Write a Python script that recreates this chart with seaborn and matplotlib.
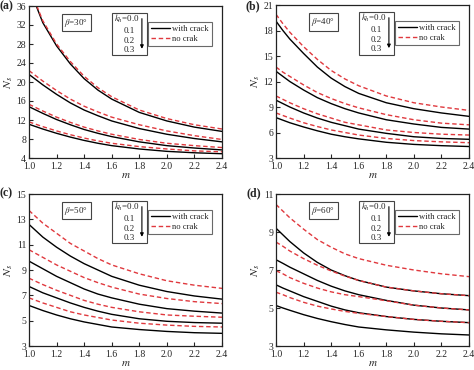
import numpy as np
import pandas as pd
import matplotlib
matplotlib.use("Agg")
import matplotlib.pyplot as plt
import seaborn as sns
from matplotlib.lines import Line2D

sns.set_theme(style="ticks")
plt.rcParams['font.family'] = ['Liberation Serif', 'DejaVu Serif']
plt.rcParams['mathtext.fontset'] = 'stix'

m_vals = [1.0, 1.05, 1.1, 1.2, 1.3, 1.4, 1.5, 1.6, 1.8, 2.0, 2.2, 2.4]
kh_labels = ["0.0", "0.1", "0.2", "0.3"]
type_labels = ["with crack", "no crak"]

# Panel (a) beta = 30
a_crack = [
    [40.5, 36.2, 32.5, 27.6, 23.8, 20.7, 18.3, 16.4, 13.6, 11.8, 10.5, 9.6],
    [21.6, 20.5, 19.4, 17.4, 15.6, 14.1, 12.9, 11.8, 10.2, 9.0, 8.1, 7.4],
    [14.8, 14.1, 13.4, 12.1, 11.0, 10.0, 9.2, 8.5, 7.4, 6.6, 6.1, 5.7],
    [11.1, 10.6, 10.1, 9.2, 8.4, 7.7, 7.1, 6.6, 5.9, 5.4, 5.1, 4.9],
]
a_nocrack = [
    [40.8, 36.5, 32.9, 28.0, 24.3, 21.2, 18.8, 16.9, 14.1, 12.3, 11.0, 10.1],
    [22.4, 21.3, 20.2, 18.2, 16.4, 14.9, 13.7, 12.6, 11.0, 9.7, 8.7, 7.9],
    [15.3, 14.6, 13.9, 12.6, 11.5, 10.5, 9.7, 9.0, 7.9, 7.1, 6.6, 6.2],
    [11.6, 11.1, 10.6, 9.7, 8.9, 8.2, 7.6, 7.1, 6.4, 5.9, 5.5, 5.3],
]
# Panel (b) beta = 40
b_crack = [
    [19.1, 18.0, 17.0, 15.3, 13.7, 12.4, 11.4, 10.6, 9.5, 8.8, 8.3, 7.9],
    [13.2, 12.6, 12.0, 11.0, 10.1, 9.4, 8.8, 8.3, 7.5, 7.0, 6.6, 6.4],
    [9.8, 9.4, 9.0, 8.3, 7.7, 7.2, 6.8, 6.4, 5.9, 5.5, 5.3, 5.2],
    [7.75, 7.45, 7.15, 6.65, 6.2, 5.8, 5.5, 5.25, 4.85, 4.6, 4.45, 4.35],
]
b_nocrack = [
    [19.9, 18.8, 17.8, 16.1, 14.6, 13.3, 12.3, 11.5, 10.3, 9.5, 9.0, 8.6],
    [13.7, 13.1, 12.6, 11.6, 10.7, 10.0, 9.4, 8.9, 8.1, 7.5, 7.1, 6.9],
    [10.3, 9.9, 9.5, 8.8, 8.2, 7.7, 7.2, 6.9, 6.3, 6.0, 5.8, 5.7],
    [8.3, 8.0, 7.7, 7.15, 6.7, 6.3, 6.0, 5.7, 5.3, 5.05, 4.9, 4.8],
]
# Panel (c) beta = 50
c_crack = [
    [12.6, 12.1, 11.6, 10.8, 10.1, 9.5, 9.0, 8.5, 7.8, 7.3, 6.95, 6.7],
    [9.7, 9.4, 9.1, 8.5, 8.0, 7.5, 7.1, 6.8, 6.3, 5.95, 5.75, 5.6],
    [7.7, 7.45, 7.2, 6.8, 6.4, 6.05, 5.75, 5.5, 5.15, 4.95, 4.85, 4.8],
    [6.2, 6.0, 5.8, 5.45, 5.15, 4.9, 4.7, 4.5, 4.3, 4.15, 4.05, 4.0],
]
c_nocrack = [
    [13.7, 13.2, 12.7, 11.9, 11.1, 10.5, 9.9, 9.4, 8.7, 8.15, 7.8, 7.55],
    [10.6, 10.3, 10.0, 9.4, 8.9, 8.4, 8.0, 7.65, 7.1, 6.75, 6.5, 6.35],
    [8.35, 8.1, 7.85, 7.4, 7.0, 6.6, 6.3, 6.05, 5.7, 5.45, 5.35, 5.27],
    [6.8, 6.6, 6.4, 6.05, 5.7, 5.45, 5.25, 5.05, 4.8, 4.65, 4.55, 4.5],
]
# Panel (d) beta = 60
d_crack = [
    [9.2, 8.85, 8.5, 7.9, 7.4, 7.0, 6.7, 6.45, 6.1, 5.9, 5.75, 5.65],
    [7.54, 7.35, 7.15, 6.8, 6.45, 6.15, 5.9, 5.7, 5.4, 5.15, 5.0, 4.9],
    [6.22, 6.05, 5.9, 5.6, 5.35, 5.1, 4.9, 4.75, 4.55, 4.4, 4.3, 4.23],
    [5.13, 5.0, 4.88, 4.65, 4.45, 4.28, 4.13, 4.0, 3.85, 3.73, 3.64, 3.58],
]
d_nocrack = [
    [10.45, 10.1, 9.75, 9.15, 8.6, 8.2, 7.85, 7.6, 7.25, 7.0, 6.8, 6.65],
    [8.47, 8.25, 8.0, 7.6, 7.25, 6.95, 6.68, 6.45, 6.1, 5.9, 5.75, 5.65],
    [6.96, 6.8, 6.6, 6.3, 6.05, 5.85, 5.7, 5.6, 5.38, 5.15, 5.0, 4.9],
    [5.83, 5.7, 5.55, 5.3, 5.1, 4.95, 4.82, 4.72, 4.55, 4.4, 4.3, 4.23],
]

panels = [
    ("(a)", "30", a_crack, a_nocrack, (4, 36), [4, 8, 12, 16, 20, 24, 28, 32, 36]),
    ("(b)", "40", b_crack, b_nocrack, (3, 21), [3, 6, 9, 12, 15, 18, 21]),
    ("(c)", "50", c_crack, c_nocrack, (3, 15), [3, 5, 7, 9, 11, 13, 15]),
    ("(d)", "60", d_crack, d_nocrack, (3, 11), [3, 5, 7, 9, 11]),
]
x_ticks = [1.0, 1.2, 1.4, 1.6, 1.8, 2.0, 2.2, 2.4]

W, H = 474, 370
fig = plt.figure(figsize=(W / 100, H / 100), dpi=100)

# axes boxes in pixels: left, top, right, bottom
boxes = [(29, 6, 222, 158), (276, 5, 469, 158), (29, 194, 222, 346), (276, 194, 469, 346)]
label_pos = [(0, 6), (246, 6), (0, 193), (247, 193)]

red = "#e0393e"
palette = {"with crack": "black", "no crak": red}
dashes = {"with crack": "", "no crak": (3.2, 2.0)}

for (lab, beta, crack, nocrack, ylim, yticks), (l, t, r, b), (lx, ly) in zip(panels, boxes, label_pos):
    ax = fig.add_axes([l / W, 1 - b / H, (r - l) / W, (b - t) / H])
    rows = []
    for kl, cs, ns in zip(kh_labels, crack, nocrack):
        for mv, v in zip(m_vals, cs):
            rows.append({"m": mv, "N": v, "kh": kl, "type": "with crack"})
        for mv, v in zip(m_vals, ns):
            rows.append({"m": mv, "N": v, "kh": kl, "type": "no crak"})
    df = pd.DataFrame(rows)
    sns.lineplot(data=df, x="m", y="N", hue="type", style="type", units="kh",
                 estimator=None, palette=palette, dashes=dashes, linewidth=1.0,
                 legend=False, ax=ax, sort=False)
    ax.set_xlim(1.0, 2.4)
    ax.set_ylim(*ylim)
    ax.set_xticks(x_ticks)
    ax.set_xticklabels([f"{v:.1f}" for v in x_ticks])
    ax.set_yticks(yticks)
    ax.tick_params(direction="in", length=3, width=0.8, labelsize=7, pad=2,
                   top=False, right=False)
    ax.tick_params(axis="x", pad=3.2)
    for s in ax.spines.values():
        s.set_linewidth(0.9)
        s.set_color("#222222")
        s.set_visible(True)
    ax.set_xlabel("$m$", fontsize=8)
    ax.set_ylabel("$N_s$", fontsize=8.5)
    ax.yaxis.set_label_coords(-0.075, 0.5)
    ax.xaxis.set_label_coords(0.5, -0.088)

    # beta box
    ax.text(0.245, 0.89, r"$\beta$=" + beta + "°", transform=ax.transAxes,
            fontsize=6.5, ha="center", va="center",
            bbox=dict(boxstyle="square,pad=0.3", fc="white", ec="#444444", lw=0.8))
    # kh box
    ax.add_patch(plt.Rectangle((0.43, 0.675), 0.18, 0.28, transform=ax.transAxes,
                               fill=False, ec="#444444", lw=0.8))
    ax.text(0.44, 0.915, "$k_h$=0.0", transform=ax.transAxes, fontsize=6.5,
            ha="left", va="center")
    for i, kl in enumerate(kh_labels[1:]):
        ax.text(0.55, 0.835 - i * 0.062, kl, transform=ax.transAxes, fontsize=6.5,
                ha="right", va="center")
    ax.annotate("", xy=(0.585, 0.70), xytext=(0.585, 0.935), xycoords="axes fraction",
                arrowprops=dict(arrowstyle="-|>", color="black", lw=0.8,
                                mutation_scale=5))
    handles = [Line2D([], [], color="black", lw=1.0),
               Line2D([], [], color=red, lw=1.0, dashes=(3.2, 2.0))]
    leg = ax.legend(handles, type_labels, loc="upper right",
                    bbox_to_anchor=(0.948, 0.895), fontsize=6.2, frameon=True,
                    fancybox=False, edgecolor="#444444", handlelength=2.2,
                    handletextpad=0.3, borderpad=0.35, labelspacing=0.25,
                    borderaxespad=0)
    leg.get_frame().set_linewidth(0.8)

    fig.text(lx / W, 1 - ly / H, lab, fontsize=8.5, fontweight="bold",
             ha="left", va="center")

fig.savefig("out.png", dpi=100)
